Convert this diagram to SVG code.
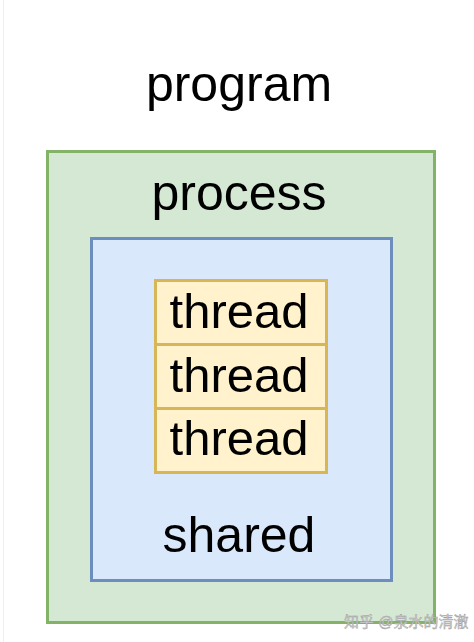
<svg xmlns="http://www.w3.org/2000/svg" width="474" height="642" viewBox="0 0 474 642">
<style>
.lbl{font-family:"Liberation Sans",Arial,sans-serif;font-size:50px;fill:#000;text-anchor:middle}
.th{font-size:49px}
.wm{font-family:"Liberation Sans","Noto Sans CJK SC",sans-serif;font-size:15px;fill:#d0d0d0;stroke:#9a9a9a;stroke-width:0.4}
</style>
<rect width="474" height="642" fill="#ffffff"/>
<line x1="3.5" y1="0" x2="3.5" y2="642" stroke="#f0f0f0" stroke-width="1"/>
<g id="program">
<text class="lbl" x="239" y="101">program</text>
</g>
<g id="process">
<rect x="47.5" y="151.5" width="387" height="471" fill="#d5e8d4" stroke="#82b366" stroke-width="3"/>
<text class="lbl" x="239" y="210">process</text>
</g>
<g id="shared">
<rect x="91.5" y="238.5" width="300" height="342" fill="#dae8fc" stroke="#6c8ebf" stroke-width="3"/>
<text class="lbl" x="239" y="552">shared</text>
</g>
<g id="thread1">
<rect x="155.5" y="280.5" width="171" height="64" fill="#fff2cc" stroke="#d6b656" stroke-width="3"/>
<text class="lbl th" x="239" y="328">thread</text>
</g>
<g id="thread2">
<rect x="155.5" y="344.5" width="171" height="64" fill="#fff2cc" stroke="#d6b656" stroke-width="3"/>
<text class="lbl th" x="239" y="392">thread</text>
</g>
<g id="thread3">
<rect x="155.5" y="408.5" width="171" height="64" fill="#fff2cc" stroke="#d6b656" stroke-width="3"/>
<text class="lbl th" x="239" y="455">thread</text>
</g>
<g id="connectors"></g>
<text class="wm" x="344" y="627">知乎 @泉水的清澈</text>
</svg>
